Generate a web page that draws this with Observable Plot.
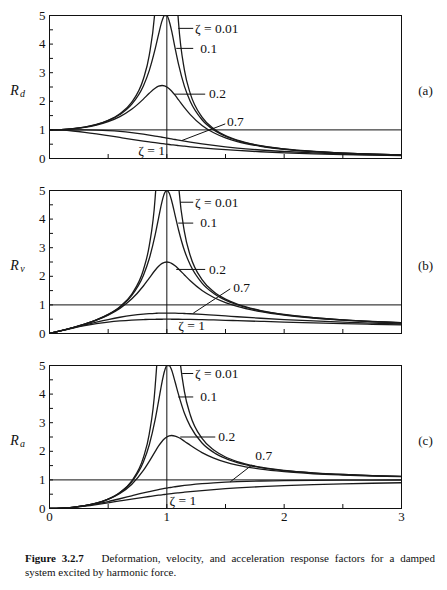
<!DOCTYPE html>
<html>
<head>
<meta charset="utf-8">
<script src="https://cdn.jsdelivr.net/npm/d3@7"></script>
<script src="https://cdn.jsdelivr.net/npm/@observablehq/plot@0.6"></script>
<style>
  body { margin: 0; background: #fff; }
  #chart { position: relative; width: 447px; height: 590px; font-family: "Liberation Serif", "Times New Roman", serif; color: #111; }
  .panel { position: absolute; left: 0; }
  #xlabel { position: absolute; left: 180px; top: 524px; font-size: 14px; line-height: 14px; white-space: nowrap; }
  #xlabel sub { font-style: italic; font-size: 10px; vertical-align: -3px; line-height: 0; }
  #caption { position: absolute; left: 25px; width: 410px; top: 551px; font-size: 11px; line-height: 14px; }
  #caption .l1 { display: block; white-space: nowrap; text-align: justify; text-align-last: justify; }
  #caption .l2 { display: block; white-space: nowrap; }
</style>
</head>
<body>
<div id="chart">
  <div id="xlabel">Frequency ratio ω / ω<sub>n</sub></div>
  <div id="caption"><span class="l1"><b>Figure 3.2.7</b>&nbsp;&nbsp; Deformation, velocity, and acceleration response factors for a damped</span><span class="l2">system excited by harmonic force.</span></div>
</div>
<script>
// ---------- data ----------
const ratio = [0, 0.1, 0.2, 0.3, 0.4, 0.5, 0.6, 0.7, 0.8, 0.85, 0.9, 0.93, 0.96, 0.98, 1, 1.02, 1.04, 1.07, 1.1, 1.15, 1.2, 1.3, 1.4, 1.5, 1.6, 1.8, 2, 2.25, 2.5, 2.75, 3];
const zetaLabels = ["0.01", "0.1", "0.2", "0.7", "1"];

// deformation response factor Rd
const rd001 = [1, 1.010, 1.042, 1.099, 1.190, 1.333, 1.563, 1.961, 2.778, 3.604, 5.24, 7.33, 12.4, 22.6, 50, 22.1, 11.9, 6.83, 4.74, 3.09, 2.27, 1.449, 1.042, 0.800, 0.641, 0.446, 0.333, 0.246, 0.190, 0.152, 0.125];
const rd01  = [1, 1.010, 1.041, 1.097, 1.185, 1.322, 1.536, 1.891, 2.538, 3.073, 3.821, 4.35, 4.82, 5.00, 5.00, 4.81, 4.48, 3.87, 3.29, 2.52, 1.995, 1.356, 1.000, 0.778, 0.628, 0.441, 0.330, 0.245, 0.190, 0.152, 0.125];
const rd02  = [1, 1.009, 1.038, 1.089, 1.169, 1.288, 1.463, 1.719, 2.076, 2.279, 2.457, 2.527, 2.552, 2.538, 2.500, 2.439, 2.359, 2.213, 2.051, 1.780, 1.536, 1.157, 0.900, 0.721, 0.593, 0.425, 0.322, 0.240, 0.187, 0.150, 0.124];
const rd07  = [1, 1.000, 1.000, 0.998, 0.991, 0.975, 0.947, 0.905, 0.850, 0.818, 0.785, 0.764, 0.743, 0.729, 0.714, 0.700, 0.686, 0.664, 0.643, 0.609, 0.576, 0.514, 0.458, 0.409, 0.366, 0.297, 0.244, 0.195, 0.158, 0.131, 0.111];
const rd1   = [1, 0.990, 0.962, 0.917, 0.862, 0.800, 0.735, 0.671, 0.610, 0.581, 0.552, 0.536, 0.520, 0.510, 0.500, 0.490, 0.480, 0.466, 0.452, 0.431, 0.410, 0.372, 0.338, 0.308, 0.281, 0.236, 0.200, 0.165, 0.138, 0.117, 0.100];

// velocity response factor Rv
const rv001 = [0, 0.101, 0.208, 0.330, 0.476, 0.667, 0.938, 1.373, 2.222, 3.063, 4.72, 6.82, 11.9, 22.1, 50, 22.5, 12.4, 7.31, 5.21, 3.55, 2.72, 1.884, 1.458, 1.200, 1.026, 0.803, 0.667, 0.554, 0.476, 0.419, 0.375];
const rv01  = [0, 0.101, 0.208, 0.329, 0.474, 0.661, 0.922, 1.324, 2.030, 2.612, 3.439, 4.046, 4.63, 4.90, 5.00, 4.91, 4.66, 4.14, 3.62, 2.90, 2.394, 1.763, 1.400, 1.167, 1.005, 0.794, 0.660, 0.551, 0.475, 0.418, 0.375];
const rv02  = [0, 0.101, 0.208, 0.327, 0.468, 0.644, 0.878, 1.203, 1.661, 1.937, 2.211, 2.350, 2.450, 2.487, 2.500, 2.488, 2.453, 2.368, 2.256, 2.047, 1.843, 1.504, 1.260, 1.082, 0.949, 0.765, 0.644, 0.540, 0.468, 0.413, 0.371];
const rv07  = [0, 0.100, 0.200, 0.299, 0.396, 0.487, 0.568, 0.634, 0.680, 0.695, 0.706, 0.710, 0.713, 0.714, 0.714, 0.714, 0.713, 0.711, 0.707, 0.700, 0.691, 0.668, 0.641, 0.614, 0.586, 0.534, 0.487, 0.438, 0.396, 0.361, 0.332];
const rv1   = [0, 0.099, 0.192, 0.275, 0.345, 0.400, 0.441, 0.470, 0.488, 0.494, 0.497, 0.499, 0.499, 0.500, 0.500, 0.500, 0.499, 0.498, 0.498, 0.495, 0.492, 0.483, 0.473, 0.462, 0.449, 0.424, 0.400, 0.371, 0.345, 0.322, 0.300];

// acceleration response factor Ra
const ra001 = [0, 0.010, 0.042, 0.099, 0.190, 0.333, 0.563, 0.961, 1.778, 2.604, 4.24, 6.34, 11.4, 21.7, 50, 23.0, 12.9, 7.82, 5.74, 4.09, 3.27, 2.449, 2.042, 1.800, 1.641, 1.446, 1.333, 1.246, 1.190, 1.152, 1.125];
const ra01  = [0, 0.010, 0.042, 0.099, 0.190, 0.331, 0.553, 0.927, 1.624, 2.220, 3.095, 3.762, 4.44, 4.80, 5.00, 5.00, 4.85, 4.43, 3.98, 3.33, 2.873, 2.292, 1.960, 1.751, 1.608, 1.429, 1.320, 1.240, 1.188, 1.150, 1.125];
const ra02  = [0, 0.010, 0.042, 0.098, 0.187, 0.322, 0.527, 0.842, 1.329, 1.647, 1.990, 2.186, 2.352, 2.438, 2.500, 2.538, 2.552, 2.534, 2.482, 2.354, 2.212, 1.955, 1.764, 1.622, 1.518, 1.377, 1.288, 1.215, 1.169, 1.134, 1.116];
const ra07  = [0, 0.010, 0.040, 0.090, 0.159, 0.244, 0.341, 0.443, 0.544, 0.591, 0.636, 0.661, 0.685, 0.700, 0.714, 0.728, 0.742, 0.760, 0.778, 0.805, 0.829, 0.868, 0.898, 0.921, 0.938, 0.961, 0.975, 0.985, 0.991, 0.994, 0.996];
const ra1   = [0, 0.010, 0.038, 0.083, 0.138, 0.200, 0.265, 0.329, 0.390, 0.419, 0.448, 0.464, 0.480, 0.490, 0.500, 0.510, 0.520, 0.534, 0.548, 0.569, 0.590, 0.628, 0.662, 0.692, 0.719, 0.764, 0.800, 0.835, 0.862, 0.883, 0.900];

// axes
const yTicks = [0, 1, 2, 3, 4, 5];
const yMinorTicks = [0.5, 1, 1.5, 2, 2.5, 3, 3.5, 4, 4.5];
const xTicks = [0, 1, 2, 3];
const xMinorTicks = [0.5, 1, 1.5, 2, 2.5];
const referenceLevel = [1];
const resonance = [1];

// ---------- annotation layout ----------
const panels = [
  { top: 0, sym: "R", sub: "d", tag: "(a)", series: [rd001, rd01, rd02, rd07, rd1], showX: false,
    leaders: [
      {x1: 1.097, y1: 4.55, x2: 1.225, y2: 4.55},
      {x1: 1.080, y1: 3.85, x2: 1.225, y2: 3.85},
      {x1: 1.065, y1: 2.25, x2: 1.327, y2: 2.25},
      {x1: 1.129, y1: 0.63, x2: 1.498, y2: 1.21}],
    notes: [
      {x: 1.24, y: 4.55, t: "ζ = 0.01", a: "start"},
      {x: 1.285, y: 3.85, t: "0.1", a: "start"},
      {x: 1.36, y: 2.25, t: "0.2", a: "start"},
      {x: 1.512, y: 1.30, t: "0.7", a: "start"},
      {x: 0.871, y: 0.28, t: "ζ = 1", a: "middle"}] },
  { top: 175, sym: "R", sub: "v", tag: "(b)", series: [rv001, rv01, rv02, rv07, rv1], showX: false,
    leaders: [
      {x1: 1.114, y1: 4.59, x2: 1.225, y2: 4.59},
      {x1: 1.097, y1: 3.86, x2: 1.225, y2: 3.86},
      {x1: 1.080, y1: 2.24, x2: 1.327, y2: 2.24},
      {x1: 1.225, y1: 0.71, x2: 1.540, y2: 1.56}],
    notes: [
      {x: 1.24, y: 4.59, t: "ζ = 0.01", a: "start"},
      {x: 1.285, y: 3.86, t: "0.1", a: "start"},
      {x: 1.36, y: 2.24, t: "0.2", a: "start"},
      {x: 1.566, y: 1.61, t: "0.7", a: "start"},
      {x: 1.212, y: 0.28, t: "ζ = 1", a: "middle"}] },
  { top: 350, sym: "R", sub: "a", tag: "(c)", series: [ra001, ra01, ra02, ra07, ra1], showX: true,
    leaders: [
      {x1: 1.131, y1: 4.72, x2: 1.225, y2: 4.72},
      {x1: 1.097, y1: 3.90, x2: 1.225, y2: 3.90},
      {x1: 1.114, y1: 2.50, x2: 1.413, y2: 2.50},
      {x1: 1.540, y1: 0.93, x2: 1.725, y2: 1.52}],
    notes: [
      {x: 1.24, y: 4.72, t: "ζ = 0.01", a: "start"},
      {x: 1.285, y: 3.90, t: "0.1", a: "start"},
      {x: 1.439, y: 2.50, t: "0.2", a: "start"},
      {x: 1.754, y: 1.86, t: "0.7", a: "start"},
      {x: 1.136, y: 0.29, t: "ζ = 1", a: "middle"}] }
];

function tidy(series) {
  const out = [];
  series.forEach((vals, k) => vals.forEach((v, i) => out.push({r: ratio[i], v, z: zetaLabels[k]})));
  return out;
}

const ink = "#111";
const chart = document.getElementById("chart");
const intFormat = d => String(d);

for (const p of panels) {
  const data = tidy(p.series);
  const starts = p.notes.filter(n => n.a === "start");
  const mids = p.notes.filter(n => n.a === "middle");
  const svg = Plot.plot({
    width: 447,
    height: p.showX ? 200 : 175,
    marginLeft: 49,
    marginRight: 46,
    marginTop: 15,
    marginBottom: p.showX ? 42 : 17,
    x: {domain: [0, 3]},
    y: {domain: [0, 5]},
    style: {fontFamily: "'Liberation Serif', 'Times New Roman', serif", fontSize: "13px", color: ink, background: "white", overflow: "visible"},
    marks: [
      Plot.ruleY(referenceLevel, {stroke: ink, strokeWidth: 1}),
      Plot.ruleX(resonance, {y1: 0, y2: 5, stroke: ink, strokeWidth: 1}),
      Plot.line(data, {x: "r", y: "v", z: "z", curve: "monotone-x", clip: true, stroke: "#1a1a1a", strokeWidth: 1.3}),
      Plot.frame({stroke: ink, strokeWidth: 1}),
      Plot.axisY({ticks: yMinorTicks, tickSize: -4, tickFormat: () => "", label: null, stroke: ink}),
      Plot.axisY({ticks: yTicks, tickSize: 0, tickPadding: 4, tickFormat: intFormat, label: null, fontSize: 13, fill: ink}),
      Plot.axisX({ticks: xMinorTicks, tickSize: -4, tickFormat: () => "", label: null, stroke: ink}),
      p.showX ? Plot.axisX({ticks: xTicks, tickSize: 0, tickPadding: 3, tickFormat: intFormat, label: null, fontSize: 13, fill: ink}) : null,
      Plot.link(p.leaders, {x1: "x1", y1: "y1", x2: "x2", y2: "y2", stroke: ink, strokeWidth: 1}),
      Plot.text(starts, {x: "x", y: "y", text: "t", textAnchor: "start", fontSize: 13.5, fill: ink}),
      Plot.text(mids, {x: "x", y: "y", text: "t", textAnchor: "middle", fontSize: 13.5, fill: ink}),
      Plot.text([{y: 2.38, t: p.sym}], {x: () => 0, y: "y", text: "t", dx: -35, fontSize: 14, fontStyle: "italic", fill: ink}),
      Plot.text([{y: 2.38, t: p.sub}], {x: () => 0, y: "y", text: "t", dx: -27, dy: 3, fontSize: 10, fontStyle: "italic", fill: ink}),
      Plot.text([{y: 2.38, t: p.tag}], {x: () => 3, y: "y", text: "t", dx: 24, fontSize: 13, fill: ink})
    ]
  });
  const wrap = document.createElement("div");
  wrap.className = "panel";
  wrap.style.top = p.top + "px";
  wrap.appendChild(svg);
  chart.appendChild(wrap);
}
</script>
</body>
</html>
